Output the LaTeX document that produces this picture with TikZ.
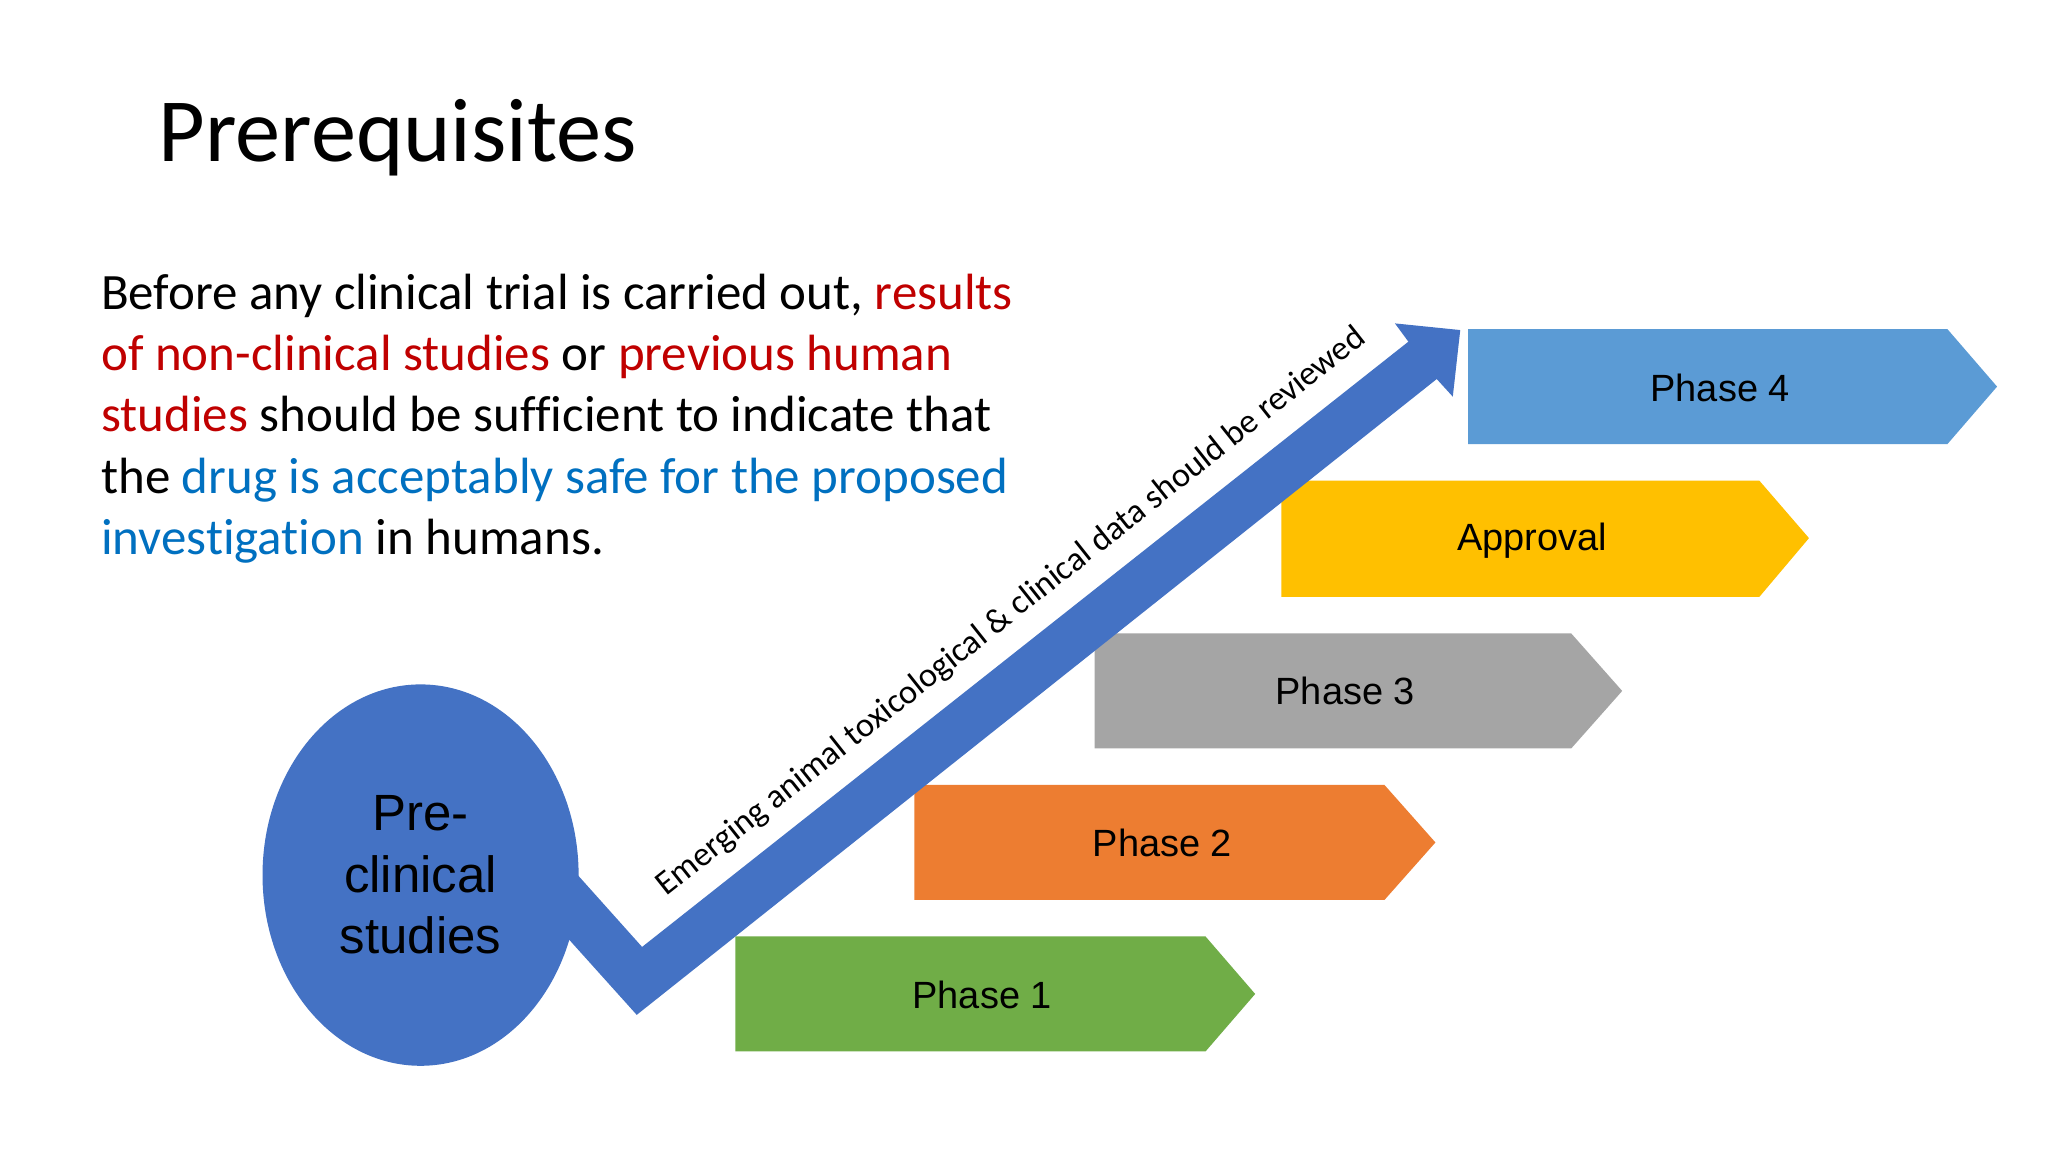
\documentclass[tikz,border=0pt]{standalone}
\usepackage{fontspec}
\setmainfont{Carlito}[Ligatures=NoCommon]
\newfontfamily\arialfont{Liberation Sans}
\usetikzlibrary{shapes.geometric}
\definecolor{preblue}{HTML}{4472C4}
\definecolor{phfour}{HTML}{5B9BD5}
\definecolor{phappr}{HTML}{FFC000}
\definecolor{phthree}{HTML}{A5A5A5}
\definecolor{phtwo}{HTML}{ED7D31}
\definecolor{phone}{HTML}{70AD47}
\definecolor{hlred}{HTML}{C00000}
\definecolor{hlblue}{HTML}{0070C0}
\begin{document}
\begin{tikzpicture}[x=0.013061cm, y=-0.013061cm,
    phasetxt/.style={inner sep=0, font=\arialfont\fontsize{10.8}{13}\selectfont}]
	\useasboundingbox[fill=white] (0,0) rectangle (1568,882);
	\node[anchor=base west, inner sep=0, font=\fontsize{25.7}{30}\selectfont] (title) at (121,124) {Prerequisites};
	\node[anchor=north west, inner sep=0, align=left, font=\fontsize{14.5}{17.47}\selectfont] (intro) at (77,209)
		{Before any clinical trial is carried out, \textcolor{hlred}{results}\\
		\textcolor{hlred}{of non-clinical studies} or \textcolor{hlred}{previous human}\\
		\textcolor{hlred}{studies} should be sufficient to indicate that\\
		the \textcolor{hlblue}{drug is acceptably safe for the proposed}\\
		\textcolor{hlblue}{investigation} in humans.};
	% phases
	\fill[phone] (563,717) -- (923,717) -- (961,761) -- (923,805) -- (563,805) -- cycle;
	\fill[phtwo] (700,601) -- (1060,601) -- (1099,645) -- (1060,689) -- (700,689) -- cycle;
	\fill[phthree] (838,485) -- (1203,485) -- (1242,529) -- (1203,573) -- (838,573) -- cycle;
	\fill[phappr] (981,368) -- (1347,368) -- (1385,412) -- (1347,457) -- (981,457) -- cycle;
	\fill[phfour] (1124,252) -- (1491,252) -- (1529,296) -- (1491,340) -- (1124,340) -- cycle;
	\node[phasetxt] (p1) at (752,762) {Phase 1};
	\node[phasetxt] (p2) at (890,645) {Phase 2};
	\node[phasetxt] (p3) at (1030,529) {Phase 3};
	\node[phasetxt] (appr) at (1173,414) {Approval};
	\node[phasetxt] (p4) at (1317,297) {Phase 4};
	% bent arrow
	\fill[preblue] (420,645) -- (491.6,725) -- (1078.3,261.6) -- (1068,247.6) -- (1118,252.7)
		-- (1112.3,303.7) -- (1100,290.2) -- (487.5,777) -- (412,693) -- cycle;
	\node[rotate=38.4, anchor=base west, inner sep=0, font=\fontsize{9.75}{12}\selectfont] (note) at (510,687)
		{Emerging animal toxicological \& clinical data should be reviewed};
	\node[ellipse, fill=preblue, minimum width=3.161cm, minimum height=3.814cm, inner sep=0, align=center,
		font=\arialfont\fontsize{14.5}{17.5}\selectfont] (pre) at (322,670) {Pre-\\clinical\\studies};
\end{tikzpicture}
\end{document}
